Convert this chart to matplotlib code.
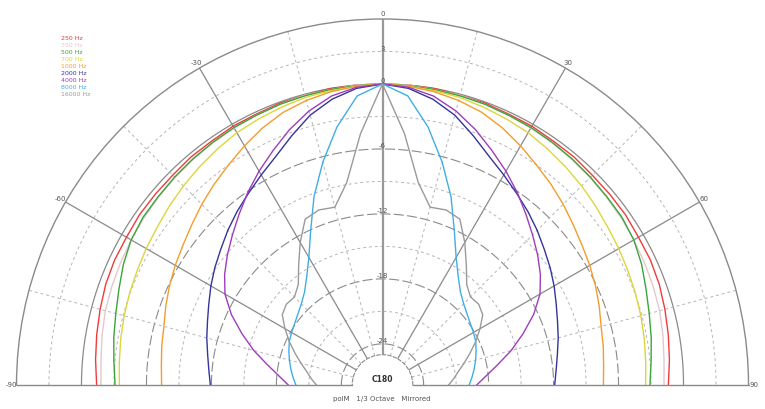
import numpy as np
import matplotlib
matplotlib.use("Agg")
import matplotlib.pyplot as plt

# angles (deg) of the measured half, mirrored for the other side
angles = [0, 5, 10, 15, 20, 25, 30, 35, 40, 45, 50, 55, 60, 65, 70, 75, 80, 85, 90]

# level in dB at each angle, one list per 1/3 octave band
resp_250 = [0, 0, 0, -0.1, -0.1, -0.2, -0.2, -0.3, -0.3, -0.4, -0.4, -0.4, -0.5, -0.5, -0.6, -0.8, -1.0, -1.2, -1.4]
resp_350 = [0, 0, -0.1, -0.1, -0.2, -0.3, -0.4, -0.5, -0.6, -0.7, -0.8, -0.9, -1.0, -1.1, -1.2, -1.3, -1.5, -1.7, -1.8]
resp_500 = [0, -0.05, -0.1, -0.15, -0.2, -0.3, -0.35, -0.45, -0.55, -0.65, -0.75, -0.8, -1.0, -1.4, -1.9, -2.3, -2.6, -2.9, -3.1]
resp_700 = [0, -0.1, -0.2, -0.3, -0.5, -0.7, -0.9, -1.2, -1.5, -1.8, -2.1, -2.4, -2.6, -2.8, -2.95, -3.1, -3.25, -3.4, -3.5]
resp_1000 = [0, -0.1, -0.3, -0.6, -1.0, -1.6, -2.3, -3.0, -3.6, -4.2, -4.8, -5.3, -5.7, -6.1, -6.5, -6.9, -7.1, -7.3, -7.4]
resp_2000 = [0, -0.3, -1.0, -2.0, -3.3, -4.5, -5.4, -6.2, -6.9, -7.6, -8.3, -8.9, -9.5, -10.1, -10.6, -11.0, -11.4, -11.7, -11.9]
resp_4000 = [0, -0.2, -0.7, -1.6, -2.7, -3.9, -5.0, -6.1, -7.2, -8.2, -9.1, -10.0, -11.0, -12.4, -14.0, -15.5, -17.0, -18.2, -19.1]
resp_8000 = [0, -1.0, -3.6, -6.5, -9.3, -12.1, -14.2, -15.6, -16.6, -17.2, -17.6, -17.9, -18.1, -18.3, -18.6, -18.9, -19.2, -19.5, -19.8]
resp_16000 = [0, -4.5, -8.8, -10.8, -10.6, -10.9, -12.6, -14.3, -15.7, -16.3, -16.2, -16.5, -17.4, -18.3, -19.2, -20.0, -20.7, -21.2, -21.7]

freq_labels = ["250 Hz", "350 Hz", "500 Hz", "700 Hz", "1000 Hz", "2000 Hz", "4000 Hz", "8000 Hz", "16000 Hz"]
responses = [resp_250, resp_350, resp_500, resp_700, resp_1000, resp_2000, resp_4000, resp_8000, resp_16000]
colors = ["#ef3b3b", "#e2c9cc", "#3ba43a", "#dcd63e", "#f59c2c", "#34349c", "#a03cbc", "#3eaee6", "#9a9a9a"]

angle_ticks = [-90, -60, -30, 0, 30, 60, 90]
db_ticks = [3, 0, -6, -12, -18, -24]

fig = plt.figure(figsize=(7.65, 4.09), dpi=100)

# half disc: center at (382.5, 385) px from top-left, radius 366 px
D = 732
ax = fig.add_axes([16.5 / 765, (24 - D / 4) / 409, D / 765, D / 409], projection="polar")
ax.set_theta_zero_location("N")
ax.set_theta_direction(-1)
ax.set_thetamin(-90)
ax.set_thetamax(90)
ax.set_rorigin(-27.8)
ax.set_ylim(-25, 6)
ax.set_xticks([])
ax.set_yticks([])
ax.grid(False)

grid_dark = "#8a8a8a"
grid_light = "#b5b5b5"
for name in ["polar", "start", "end"]:
    ax.spines[name].set_color(grid_dark)
    ax.spines[name].set_linewidth(1.0)
ax.spines["inner"].set_color(grid_dark)
ax.spines["inner"].set_linewidth(0.8)
ax.spines["inner"].set_linestyle((0, (3, 2)))

# rings
ring_t = np.radians(np.linspace(-90, 90, 361))
for db in [3, -3, -9, -15, -21]:
    ax.plot(ring_t, np.full_like(ring_t, db), color=grid_light, lw=0.7, ls=(0, (3, 3)))
ax.plot(ring_t, np.zeros_like(ring_t), color=grid_dark, lw=0.9)
for db in [-6, -12, -18, -24]:
    ax.plot(ring_t, np.full_like(ring_t, db), color=grid_dark, lw=0.8, ls=(0, (9, 3)))

# spokes
for a in [-60, -30, 30, 60]:
    ax.plot([np.radians(a)] * 2, [-25, 6], color=grid_dark, lw=0.9)
for a in [-75, -45, -15, 15, 45, 75]:
    ax.plot([np.radians(a)] * 2, [-25, 6], color=grid_light, lw=0.7, ls=(0, (3, 3)))
ax.plot([0, 0], [-25, 6], color="#999999", lw=1.6)

# response curves, mirrored
for lab, resp, col in zip(freq_labels, responses, colors):
    th = np.radians(np.concatenate([-np.array(angles[::-1]), np.array(angles[1:])]))
    rr = np.concatenate([np.array(resp[::-1]), np.array(resp[1:])])
    ax.plot(th, rr, color=col, lw=1.0, label=lab)

# labels
for a in angle_ticks:
    ax.text(np.radians(a), 6.5, str(a), fontsize=5, color="#555555",
            ha="center", va="center")
for db in db_ticks:
    ax.text(0, db + 0.25, str(db), fontsize=5, color="#555555",
            ha="center", va="center")

ax.legend(loc="upper left", bbox_to_anchor=(61 / 765, 1 - 36 / 409),
          bbox_transform=fig.transFigure, frameon=False, fontsize=4.5,
          handlelength=0, handletextpad=0, labelcolor="linecolor",
          labelspacing=0.25, borderpad=0, borderaxespad=0)

fig.text(382 / 765, 1 - 379 / 409, "C180", fontsize=5.5, fontweight="bold",
         color="#333333", ha="center", va="center")
fig.text(382 / 765, 1 - 399 / 409, "polM   1/3 Octave   Mirrored", fontsize=5,
         color="#555555", ha="center", va="center")

fig.savefig("out.png", dpi=100)
